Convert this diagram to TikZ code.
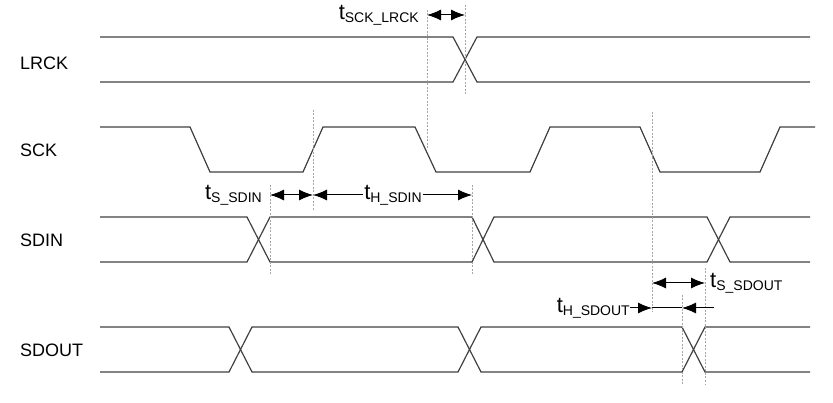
\documentclass[tikz,border=0pt]{standalone}
\usepackage{fontspec}
\setmainfont{Liberation Sans}
\usetikzlibrary{arrows.meta}
\begin{document}
\begin{tikzpicture}[x=1pt,y=-1pt,
  wave/.style={draw=black!75,line width=1.2pt},
  guide/.style={draw=black!35,dashed,dash pattern=on 2pt off 1.5pt,line width=0.6pt},
  dim/.style={draw=black,line width=1pt,{Latex[length=14pt,width=11pt]}-{Latex[length=14pt,width=11pt]}},
  dimr/.style={draw=black,line width=1pt,-{Latex[length=14pt,width=11pt]}},
  sig/.style={anchor=west,inner sep=0pt,font=\fontsize{18}{18}\selectfont},
  lab/.style={font=\fontsize{22}{22}\selectfont,inner sep=0pt}]
\newcommand{\tsub}[1]{t{\fontsize{14}{14}\selectfont\raisebox{-3pt}{#1}}}
\useasboundingbox (0,0) rectangle (833,403);
% signal names
\node[sig] (lrck) at (20,63) {LRCK};
\node[sig] (sck) at (20,150) {SCK};
\node[sig] (sdin) at (20,240) {SDIN};
\node[sig] (sdout) at (20,350) {SDOUT};
% LRCK
\draw[wave] (100,37) -- (453,37) -- (477,82) -- (810,82);
\draw[wave] (100,82) -- (453,82) -- (477,37) -- (810,37);
% SCK
\draw[wave] (100,127) -- (190,127) -- (210,172) -- (303,172) -- (323,127) -- (415,127) -- (436,172) -- (530,172) -- (550,127) -- (640,127) -- (660,172) -- (760,172) -- (780,127) -- (815,127);
% SDIN
\draw[wave] (100,217) -- (247,217) -- (270,262) -- (472,262) -- (494,217) -- (707,217) -- (730,262) -- (810,262);
\draw[wave] (100,262) -- (247,262) -- (270,217) -- (472,217) -- (494,262) -- (707,262) -- (730,217) -- (810,217);
% SDOUT
\draw[wave] (100,327) -- (229,327) -- (252,372) -- (458,372) -- (481,327) -- (682,327) -- (705,372) -- (810,372);
\draw[wave] (100,372) -- (229,372) -- (252,327) -- (458,327) -- (481,372) -- (682,372) -- (705,327) -- (810,327);
% guide lines
\coordinate (g1t) at (427,10); \coordinate (g1b) at (427,150);
\coordinate (g2t) at (465,5);  \coordinate (g2b) at (465,95);
\coordinate (g3t) at (313,110); \coordinate (g3b) at (313,210);
\coordinate (g4t) at (270,185); \coordinate (g4b) at (270,275);
\coordinate (g5t) at (472,185); \coordinate (g5b) at (472,275);
\coordinate (g6t) at (652,112); \coordinate (g6b) at (652,312);
\coordinate (g7t) at (682,295); \coordinate (g7b) at (682,385);
\coordinate (g8t) at (705,268); \coordinate (g8b) at (705,385);
\foreach \g in {1,...,8} \draw[guide] (g\g t) -- (g\g b);
% dimensions
\draw[dim] (427,15) -- (465,15);
\node[lab,anchor=east] (tsck) at (419,15) {\tsub{SCK\_LRCK}};
\draw[dim] (270,195) -- (313,195);
\node[lab,anchor=east] (tssdin) at (262,195) {\tsub{S\_SDIN}};
\node[lab,fill=white,inner xsep=1pt] (thsdin) at (393,195) {\tsub{H\_SDIN}};
\draw[dimr] (thsdin.west) -- (313,195);
\draw[dimr] (thsdin.east) -- (472,195);
\draw[dim] (652,283) -- (705,283);
\node[lab,anchor=west] (tssdout) at (710,283) {\tsub{S\_SDOUT}};
\node[lab,anchor=east] (thsdout) at (630,308) {\tsub{H\_SDOUT}};
\draw[dimr] (thsdout.east) -- (652,308);
\draw[line width=1pt] (652,308) -- (682,308);
\draw[dimr] (714,308) -- (682,308);
\end{tikzpicture}
\end{document}
